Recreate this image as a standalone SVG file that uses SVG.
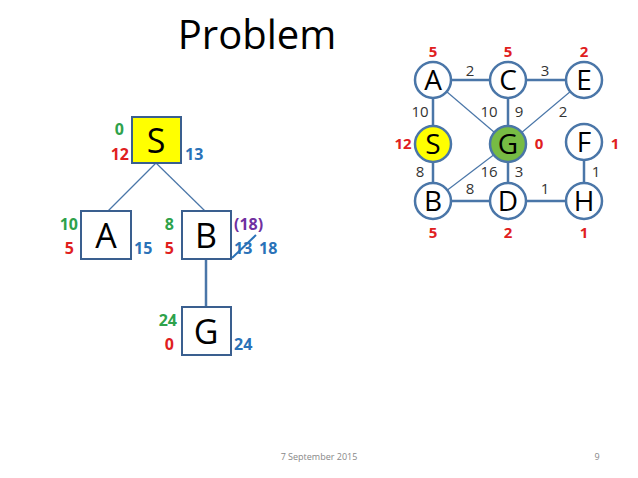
<svg xmlns="http://www.w3.org/2000/svg" width="638" height="478" viewBox="0 0 638 478">
<style>
text{font-family:"Open Sans","Liberation Sans",sans-serif}
.box{fill:#fff;stroke:#3a5f8f;stroke-width:2}
.big{font-size:34px;fill:#000;text-anchor:middle}
.g{fill:#2ea24b;font-weight:bold;font-size:16px}
.r{fill:#e0201e;font-weight:bold;font-size:16px}
.b{fill:#2a72b8;font-weight:bold;font-size:16px}
.e{stroke:#4a76a8;stroke-width:1.2}
.ge{stroke:#4a76a8;stroke-width:2.5}
.c{fill:#fff;stroke:#4a76a8;stroke-width:2.5}
.cl{font-size:28px;fill:#000;text-anchor:middle}
.w{font-size:15px;fill:#333;text-anchor:middle}
.hr{fill:#e0201e;font-weight:bold;font-size:15px;text-anchor:middle}
</style>
<rect width="638" height="478" fill="#fff"/>
<text x="257" y="49" font-size="40" text-anchor="middle">Problem</text>
<g id="tree-edges">
<line class="e" x1="156" y1="163" x2="108" y2="211"/>
<line class="e" x1="156" y1="163" x2="205" y2="211"/>
<line class="ge" x1="206" y1="259" x2="206" y2="307" stroke-width="2"/>
</g>
<g id="tS"><rect class="box" x="132" y="117" width="49" height="46" style="fill:#ffff00"/><text class="big" x="156" y="153">S</text>
<text class="g" x="124" y="135" text-anchor="end">0</text><text class="r" x="129" y="160" text-anchor="end">12</text><text class="b" x="185" y="160">13</text></g>
<g id="tA"><rect class="box" x="81" y="211" width="50" height="48"/><text class="big" x="106" y="248">A</text>
<text class="g" x="78" y="230" text-anchor="end">10</text><text class="r" x="74" y="254" text-anchor="end">5</text><text class="b" x="134" y="254">15</text></g>
<g id="tB"><rect class="box" x="182" y="211" width="49" height="48"/><text class="big" x="206" y="248">B</text>
<text class="g" x="174" y="230" text-anchor="end">8</text><text class="r" x="174" y="254" text-anchor="end">5</text>
<text x="234" y="230" font-size="16" font-weight="bold" fill="#7030a0">(18)</text>
<text class="b" x="234" y="254">13</text><text class="b" x="259" y="254">18</text>
<line x1="232" y1="258" x2="256" y2="235" stroke="#2a72b8" stroke-width="2"/></g>
<g id="tG"><rect class="box" x="182" y="307" width="49" height="48"/><text class="big" x="206" y="344">G</text>
<text class="g" x="177" y="326" text-anchor="end">24</text><text class="r" x="174" y="350" text-anchor="end">0</text><text class="b" x="234" y="350">24</text></g>
<g id="graph-edges">
<line class="ge" x1="433" y1="80" x2="584" y2="80"/>
<line class="ge" x1="433" y1="80" x2="433" y2="201"/>
<line class="ge" x1="508" y1="80" x2="508" y2="201"/>
<line class="ge" x1="433" y1="201" x2="584" y2="201"/>
<line class="ge" x1="584" y1="142" x2="584" y2="201"/>
<line class="e" x1="433" y1="80" x2="508" y2="144"/>
<line class="e" x1="584" y1="80" x2="508" y2="144"/>
<line class="e" x1="433" y1="201" x2="508" y2="144"/>
</g>
<g id="ew">
<text class="w" x="470" y="76">2</text><text class="w" x="545" y="76">3</text>
<text class="w" x="420" y="117">10</text><text class="w" x="489" y="117">10</text><text class="w" x="519" y="117">9</text><text class="w" x="563" y="117">2</text>
<text class="w" x="420" y="177">8</text><text class="w" x="489" y="177">16</text><text class="w" x="519" y="177">3</text><text class="w" x="596" y="177">1</text>
<text class="w" x="470" y="194">8</text><text class="w" x="545" y="194">1</text>
</g>
<g id="gA"><circle class="c" cx="433" cy="80" r="18"/><text class="cl" x="433" y="90">A</text><text class="hr" x="433" y="57">5</text></g>
<g id="gC"><circle class="c" cx="508" cy="80" r="18"/><text class="cl" x="508" y="90">C</text><text class="hr" x="508" y="57">5</text></g>
<g id="gE"><circle class="c" cx="584" cy="80" r="18"/><text class="cl" x="584" y="90">E</text><text class="hr" x="584" y="57">2</text></g>
<g id="gS"><circle class="c" cx="433" cy="144" r="18" style="fill:#ffff00"/><text class="cl" x="433" y="154">S</text><text class="hr" x="403" y="149">12</text></g>
<g id="gG"><circle class="c" cx="508" cy="144" r="18" style="fill:#77bb44"/><text class="cl" x="508" y="154">G</text><text class="hr" x="539" y="149">0</text></g>
<g id="gF"><circle class="c" cx="584" cy="142" r="18"/><text class="cl" x="584" y="152">F</text><text class="hr" x="615" y="149">1</text></g>
<g id="gB"><circle class="c" cx="433" cy="201" r="18"/><text class="cl" x="433" y="211">B</text><text class="hr" x="433" y="238">5</text></g>
<g id="gD"><circle class="c" cx="508" cy="201" r="18"/><text class="cl" x="508" y="211">D</text><text class="hr" x="508" y="238">2</text></g>
<g id="gH"><circle class="c" cx="584" cy="201" r="18"/><text class="cl" x="584" y="211">H</text><text class="hr" x="584" y="238">1</text></g>
<text x="319" y="460" font-size="9" fill="#888" text-anchor="middle">7 September 2015</text>
<text x="597" y="460" font-size="9" fill="#888" text-anchor="middle">9</text>
</svg>
